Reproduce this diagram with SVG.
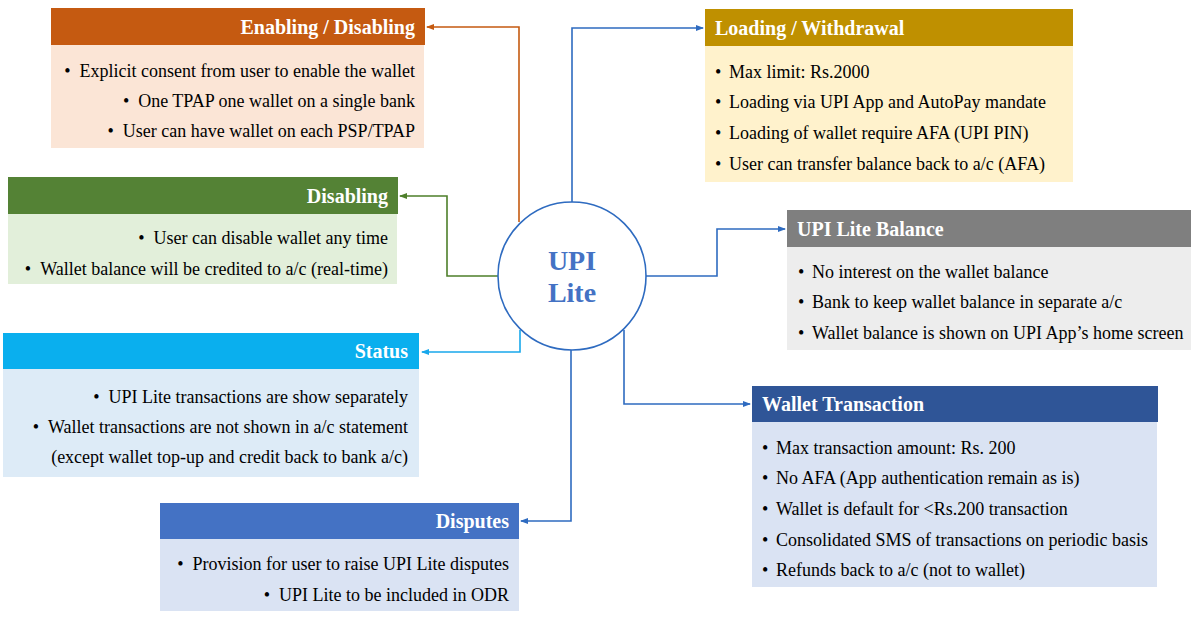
<svg xmlns="http://www.w3.org/2000/svg" width="1200" height="620" viewBox="0 0 1200 620">
<defs>
<style>
.t{font-family:"Liberation Serif","DejaVu Serif",serif;font-size:18px;fill:#000}
.h{font-family:"Liberation Serif","DejaVu Serif",serif;font-size:20px;font-weight:bold;fill:#fff}
.c{fill:none;stroke-width:1.6}
.e{text-anchor:end}
</style>
<marker id="mo" markerWidth="8" markerHeight="8" refX="7" refY="4" orient="auto" markerUnits="userSpaceOnUse"><path d="M0,1 L8,4 L0,7 Z" fill="#C55A11"/></marker>
<marker id="mg" markerWidth="8" markerHeight="8" refX="7" refY="4" orient="auto" markerUnits="userSpaceOnUse"><path d="M0,1 L8,4 L0,7 Z" fill="#4E7F2A"/></marker>
<marker id="ml" markerWidth="8" markerHeight="8" refX="7" refY="4" orient="auto" markerUnits="userSpaceOnUse"><path d="M0,1 L8,4 L0,7 Z" fill="#18A8EC"/></marker>
<marker id="mb" markerWidth="8" markerHeight="8" refX="7" refY="4" orient="auto" markerUnits="userSpaceOnUse"><path d="M0,1 L8,4 L0,7 Z" fill="#2E6BC0"/></marker>
</defs>
<rect width="1200" height="620" fill="#fff"/>

<g id="connectors">
<path class="c" d="M519,222 V27 H427" stroke="#C55A11" marker-end="url(#mo)"/>
<path class="c" d="M498,276 H447 V196 H400" stroke="#4E7F2A" marker-end="url(#mg)"/>
<path class="c" d="M520,330 V352 H422" stroke="#18A8EC" marker-end="url(#ml)"/>
<path class="c" d="M571,350 V521 H521" stroke="#2E6BC0" marker-end="url(#mb)"/>
<path class="c" d="M572,202 V28 H703" stroke="#2E6BC0" marker-end="url(#mb)"/>
<path class="c" d="M646,276 H717 V229 H785" stroke="#2E6BC0" marker-end="url(#mb)"/>
<path class="c" d="M624,330 V404 H750" stroke="#2E6BC0" marker-end="url(#mb)"/>
</g>

<g id="center">
<circle cx="572" cy="276" r="74" fill="#fff" stroke="#2E6BC0" stroke-width="1.6"/>
<text x="572" y="270" text-anchor="middle" font-family="Liberation Serif, DejaVu Serif, serif" font-size="28" font-weight="bold" fill="#4472C4">UPI</text>
<text x="572" y="302" text-anchor="middle" font-family="Liberation Serif, DejaVu Serif, serif" font-size="28" font-weight="bold" fill="#4472C4">Lite</text>
</g>

<g id="enabling">
<rect x="51" y="45" width="373" height="103" fill="#FBE5D6"/>
<rect x="51" y="8" width="374" height="37" fill="#C55A11"/>
<text class="h e" x="415" y="34">Enabling / Disabling</text>
<text class="t e" x="415" y="77">•<tspan dx="9">Explicit consent from user to enable the wallet</tspan></text>
<text class="t e" x="415" y="107">•<tspan dx="9">One TPAP one wallet on a single bank</tspan></text>
<text class="t e" x="415" y="137">•<tspan dx="9">User can have wallet on each PSP/TPAP</tspan></text>
</g>

<g id="disabling">
<rect x="8" y="214" width="389" height="70" fill="#E2EFDA"/>
<rect x="8" y="177" width="390" height="37" fill="#548235"/>
<text class="h e" x="388" y="203">Disabling</text>
<text class="t e" x="388" y="244">•<tspan dx="9">User can disable wallet any time</tspan></text>
<text class="t e" x="388" y="275">•<tspan dx="9">Wallet balance will be credited to a/c (real-time)</tspan></text>
</g>

<g id="status">
<rect x="3" y="369" width="416" height="108" fill="#DDEBF7"/>
<rect x="3" y="333" width="416" height="36" fill="#0AAFEE"/>
<text class="h e" x="408" y="358">Status</text>
<text class="t e" x="408" y="403">•<tspan dx="9">UPI Lite transactions are show separately</tspan></text>
<text class="t e" x="408" y="433">•<tspan dx="9">Wallet transactions are not shown in a/c statement</tspan></text>
<text class="t e" x="408" y="463">(except wallet top-up and credit back to bank a/c)</text>
</g>

<g id="disputes">
<rect x="160" y="539" width="359" height="72" fill="#DAE3F3"/>
<rect x="160" y="503" width="359" height="36" fill="#4472C4"/>
<text class="h e" x="509" y="528">Disputes</text>
<text class="t e" x="509" y="570">•<tspan dx="9">Provision for user to raise UPI Lite disputes</tspan></text>
<text class="t e" x="509" y="601">•<tspan dx="9">UPI Lite to be included in ODR</tspan></text>
</g>

<g id="loading">
<rect x="705" y="46" width="368" height="136" fill="#FFF2CC"/>
<rect x="705" y="9" width="368" height="37" fill="#BF9000"/>
<text class="h" x="715" y="35">Loading / Withdrawal</text>
<text class="t" x="715" y="78">•<tspan x="729">Max limit: Rs.2000</tspan></text>
<text class="t" x="715" y="108">•<tspan x="729">Loading via UPI App and AutoPay mandate</tspan></text>
<text class="t" x="715" y="139">•<tspan x="729">Loading of wallet require AFA (UPI PIN)</tspan></text>
<text class="t" x="715" y="170">•<tspan x="729">User can transfer balance back to a/c (AFA)</tspan></text>
</g>

<g id="balance">
<rect x="787" y="247" width="404" height="103" fill="#EDEDED"/>
<rect x="787" y="210" width="404" height="37" fill="#7F7F7F"/>
<text class="h" x="797" y="236">UPI Lite Balance</text>
<text class="t" x="798" y="278">•<tspan x="812">No interest on the wallet balance</tspan></text>
<text class="t" x="798" y="308">•<tspan x="812">Bank to keep wallet balance in separate a/c</tspan></text>
<text class="t" x="798" y="339">•<tspan x="812">Wallet balance is shown on UPI App’s home screen</tspan></text>
</g>

<g id="wallet">
<rect x="752" y="422" width="405" height="165" fill="#DAE3F3"/>
<rect x="752" y="386" width="406" height="36" fill="#2F5597"/>
<text class="h" x="762" y="411">Wallet Transaction</text>
<text class="t" x="762" y="454">•<tspan x="776">Max transaction amount: Rs. 200</tspan></text>
<text class="t" x="762" y="484">•<tspan x="776">No AFA (App authentication remain as is)</tspan></text>
<text class="t" x="762" y="515">•<tspan x="776">Wallet is default for &lt;Rs.200 transaction</tspan></text>
<text class="t" x="762" y="546">•<tspan x="776">Consolidated SMS of transactions on periodic basis</tspan></text>
<text class="t" x="762" y="576">•<tspan x="776">Refunds back to a/c (not to wallet)</tspan></text>
</g>
</svg>
